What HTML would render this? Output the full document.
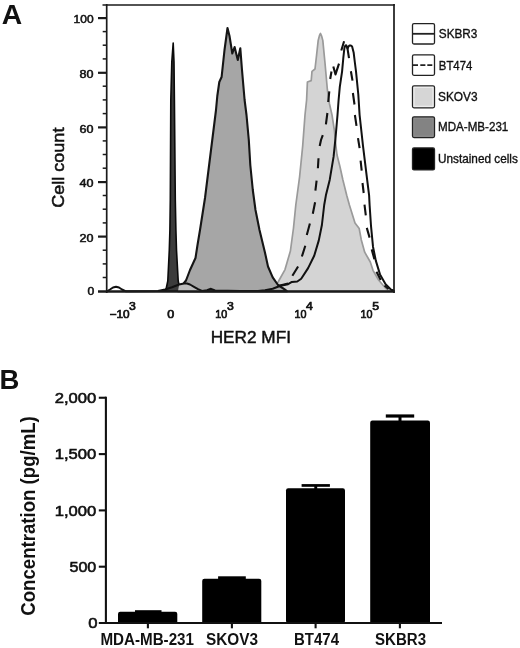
<!DOCTYPE html>
<html>
<head>
<meta charset="utf-8">
<title>Figure</title>
<style>
html,body{margin:0;padding:0;background:#fff;}
body{width:520px;height:648px;overflow:hidden;}
svg{display:block;font-family:"Liberation Sans",sans-serif;}
</style>
</head>
<body>
<svg width="520" height="648" viewBox="0 0 520 648">
<rect x="0" y="0" width="520" height="648" fill="#ffffff"/>

<!-- ================= PANEL A ================= -->
<text x="1.800" y="23.850" font-size="28.300" font-weight="bold" fill="#111">A</text>

<!-- histograms -->
<g stroke-linejoin="round" stroke-linecap="round">
  <!-- SKOV3 light grey -->
  <path id="skov" d="M180,291.300 L183,288 L187,284.5 L191,286 L196,289 L202,291.300 L268,291.300 L274.2,286.5 L278.1,282 L285,269.6 L290.4,251 L293.5,228 L295.8,205 L299.6,176.8 L302.7,145.9 L305,115 L306.6,100 L307.4,82 L311.2,80.6 L312,71.3 L315,69 L316.6,55 L318.2,40.4 L319.5,35.5 L320.5,33.5 L321.6,36 L322.8,40.4 L325,63 L327.4,90 L329.5,104 L332,115 L334.4,130.4 L335.9,145.9 L337,155 L339.8,166 L342.9,180 L346.7,195.3 L349.4,205 L355,223 L359.2,228.6 L361.25,239.7 L364.7,252.2 L370.3,262 L373,270.3 L378.6,280 L385.6,288.3 L389.7,291.300 Z" fill="#d4d4d4" stroke="#9a9a9a" stroke-width="1.700"/>
  <!-- MDA-MB-231 -->
  <path id="mda" d="M178,291.300 L181,289.5 L184,283 L186,280.5 L190,270 L195.5,258 L197.5,245 L200,230 L205,198 L211,150 L216,110 L217.300,96 L219.300,82 L221.600,77 L224.500,50 L227.500,28 L229.500,36 L232.300,53.500 L234.600,47 L237.800,60 L240.300,48.200 L242,70 L244.600,100 L246.500,115 L248.800,140 L250.300,165 L252.800,190 L255.500,210 L259.500,230 L265,252.700 L268,266.500 L272.700,277.300 L278,285 L285,289.600 L287,291.300 Z" fill="#a6a6a6" stroke="#151515" stroke-width="2.1"/>
  <!-- unstained -->
  <path id="uns" d="M163,291.300 L166,289.5 L167.800,281 L169.300,250 L169.900,230 L170.300,200 L170.800,100 L171.800,62 L173.200,43 L174,62 L174.400,100 L175.300,200 L175.900,230 L176.500,250 L178.200,281 L180,289.5 L183,291.300 Z" fill="#3c3c3c" stroke="#0a0a0a" stroke-width="1.6"/>
  <!-- small bumps near zero (light fill + solid) -->
  <path d="M178,291.300 L179,284.800 L184,283.400 L187,283.500 L190,284.500 L194,286.800 L198,289.200 L201,291.300 Z" fill="#bdbdbd" stroke="none"/>
  <!-- BT474 dashed -->
  <path id="bt" d="M279,285.700 L288.100,283.500 M292.4,275.8 L298.1,266.5 M301.9,256.5 L305.3,245.8 M306.8,235 L309.9,223.5 M312.8,213.8 L315.1,202.3 M315.4,190.7 L316.6,180.6 M317.9,168.3 L318.5,158.2 M319.7,145.9 L321,140 L322.8,135.1 M325.9,124.3 L327.4,113 M328.2,102 L329.3,91.4 M330.2,79 L331.5,71.5 M333.3,66.5 L335.5,74.4 L339,63.6 M341.3,50.5 L344.1,41.2 M347.2,46.6 L349,58.2 M350.9,71.3 L352.5,80.6 M352.9,93 L354.5,104.5 M354.9,115 L356.5,125.8 M358,138.2 L359.6,148.2 M360.6,160.6 L361.7,170.6 M362.5,183 L363.7,193 M364.5,204.6 L365.8,215.4 M366.8,227.9 L369.6,237.6 M371.7,249.4 L374.4,259.2 M376.5,271.7 L380.7,280 M384.5,285.5 L388.5,289" fill="none" stroke="#111" stroke-width="2.100" stroke-linecap="butt"/>
  <!-- SKBR3 solid -->
  <path id="skbr" d="M107,291.300 L110,289.5 L113,287.5 L116,286.8 L119,287.500 L122,289.5 L126,291.300 L158,291 L165,289.500 L172,287.300 L179,284.500 L184,283.400 L187,283.500 L190,284.500 L194,286.800 L198,289.200 L202,290.900 L207,290.300 L211,288.800 L215,290.500 L240,290.900 L258,291 L265,290.2 L272.7,288.8 L280.4,285.8 L288.1,284.2 L291.9,281.9 L297.3,281.5 L301.2,278.8 L308.1,268.1 L314.2,255.8 L318.8,240.4 L321.9,225 L324.2,205 L325.9,195.3 L329.7,179.9 L333.6,156.7 L335.5,138.2 L337.5,115 L338.6,100 L339.8,86.8 L342.1,71.3 L343.4,57 L344.4,48.2 L345.2,45.8 L346.2,45.2 L347.5,48.5 L348.5,46.5 L349.5,45.6 L350.8,45.4 L352.1,46.6 L353.7,52.8 L354.8,62 L356,71.3 L358.3,94.5 L359.6,115 L363,145.9 L366.8,176.8 L369.1,195.3 L369.6,205 L371,225.8 L373,246.7 L375.8,260.6 L380,274.4 L385.6,284.2 L391.1,289.7 L393,290.3" fill="none" stroke="#111" stroke-width="2"/>
</g>

<!-- frame -->
<g stroke="#1a1a1a" fill="none" stroke-linecap="butt">
  <line x1="102.500" y1="5" x2="394.800" y2="5" stroke-width="1.500"/>
  <line x1="106.700" y1="4.100" x2="106.700" y2="293" stroke-width="1.700"/>
  <line x1="394" y1="4.100" x2="394" y2="293" stroke-width="1.700"/>
  <line x1="98" y1="291.500" x2="394.800" y2="291.500" stroke-width="2.600"/>
  <!-- major ticks -->
  <g stroke-width="2.200">
    <line x1="98" y1="18.100" x2="106.700" y2="18.100"/>
    <line x1="98" y1="72.800" x2="106.700" y2="72.800"/>
    <line x1="98" y1="127.400" x2="106.700" y2="127.400"/>
    <line x1="98" y1="182.100" x2="106.700" y2="182.100"/>
    <line x1="98" y1="236.600" x2="106.700" y2="236.600"/>
  </g>
  <!-- minor ticks -->
  <g stroke-width="1.500" id="minor">
    <line x1="102.700" y1="277.5" x2="106.700" y2="277.5"/>
    <line x1="102.700" y1="263.9" x2="106.700" y2="263.9"/>
    <line x1="102.700" y1="250.2" x2="106.700" y2="250.2"/>
    <line x1="102.700" y1="222.9" x2="106.700" y2="222.9"/>
    <line x1="102.700" y1="209.2" x2="106.700" y2="209.2"/>
    <line x1="102.700" y1="195.5" x2="106.700" y2="195.5"/>
    <line x1="102.700" y1="168.2" x2="106.700" y2="168.2"/>
    <line x1="102.700" y1="154.5" x2="106.700" y2="154.5"/>
    <line x1="102.700" y1="140.9" x2="106.700" y2="140.9"/>
    <line x1="102.700" y1="113.6" x2="106.700" y2="113.6"/>
    <line x1="102.700" y1="99.9" x2="106.700" y2="99.9"/>
    <line x1="102.700" y1="86.2" x2="106.700" y2="86.2"/>
    <line x1="102.700" y1="58.9" x2="106.700" y2="58.9"/>
    <line x1="102.700" y1="45.2" x2="106.700" y2="45.2"/>
    <line x1="102.700" y1="31.6" x2="106.700" y2="31.6"/>
  </g>
</g>

<!-- y tick labels -->
<g font-size="10.600" fill="#111" stroke="#111" stroke-width="0.500" text-anchor="end">
  <text x="93.600" y="23.2" textLength="20" lengthAdjust="spacingAndGlyphs">100</text>
  <text x="93.600" y="77.9" textLength="14" lengthAdjust="spacingAndGlyphs">80</text>
  <text x="93.600" y="132.5" textLength="14" lengthAdjust="spacingAndGlyphs">60</text>
  <text x="93.600" y="187.2" textLength="14" lengthAdjust="spacingAndGlyphs">40</text>
  <text x="93.600" y="241.8" textLength="14" lengthAdjust="spacingAndGlyphs">20</text>
  <text x="94.300" y="295.100" textLength="6.800" lengthAdjust="spacingAndGlyphs">0</text>
</g>

<!-- x tick labels -->
<g font-size="10.500" fill="#111" stroke="#111" stroke-width="0.650">
  <text x="109.600" y="317.700" textLength="20" lengthAdjust="spacingAndGlyphs">−10</text>
  <text x="129" y="310" textLength="6.800" lengthAdjust="spacingAndGlyphs">3</text>
  <text x="167.200" y="317.700" textLength="7" lengthAdjust="spacingAndGlyphs">0</text>
  <text x="215.300" y="317.700" textLength="12" lengthAdjust="spacingAndGlyphs">10</text>
  <text x="227" y="310" textLength="6.800" lengthAdjust="spacingAndGlyphs">3</text>
  <text x="294.400" y="317.700" textLength="12" lengthAdjust="spacingAndGlyphs">10</text>
  <text x="306" y="310" textLength="6.800" lengthAdjust="spacingAndGlyphs">4</text>
  <text x="360.500" y="317.700" textLength="12" lengthAdjust="spacingAndGlyphs">10</text>
  <text x="372.200" y="310" textLength="6.800" lengthAdjust="spacingAndGlyphs">5</text>
</g>

<!-- axis titles -->
<text x="210.700" y="343.300" font-size="16.200" fill="#111" stroke="#111" stroke-width="0.450" textLength="80.300" lengthAdjust="spacingAndGlyphs">HER2 MFI</text>
<text transform="translate(64.400,207.800) rotate(-90)" font-size="17.200" fill="#111" stroke="#111" stroke-width="0.550" textLength="80.200" lengthAdjust="spacingAndGlyphs">Cell count</text>

<!-- legend -->
<g stroke="#222" stroke-width="1.300">
  <rect x="412.500" y="23.600" width="22" height="20.400" rx="1.500" fill="#fff"/>
  <line x1="412.500" y1="33.800" x2="434.500" y2="33.800" stroke-width="1.800"/>
  <rect x="412.500" y="54.800" width="22" height="20.500" rx="1.500" fill="#fff"/>
  <path d="M412,65.100 H418 M420.300,65.100 H425.400 M427.300,65.100 H432.300" stroke-width="1.600" fill="none"/>
  <rect x="412.500" y="85.800" width="22" height="22" rx="1.500" fill="#d6d6d6"/>
  <rect x="414" y="87.300" width="19" height="19" fill="none" stroke="#f2f2f2" stroke-width="1"/>
  <rect x="412.500" y="116.800" width="22" height="20.800" rx="1.500" fill="#838383"/>
  <rect x="414" y="118.300" width="19" height="17.800" fill="none" stroke="#909090" stroke-width="0.800"/>
  <rect x="412.500" y="147.900" width="22" height="22" rx="1.500" fill="#000"/>
</g>
<g font-size="12.400" fill="#111" stroke="#111" stroke-width="0.350">
  <text x="438.800" y="38.300" textLength="38.600" lengthAdjust="spacingAndGlyphs">SKBR3</text>
  <text x="438.800" y="69.500" textLength="33.500" lengthAdjust="spacingAndGlyphs">BT474</text>
  <text x="438" y="100.500" textLength="39.600" lengthAdjust="spacingAndGlyphs">SKOV3</text>
  <text x="438" y="130.500" textLength="70.300" lengthAdjust="spacingAndGlyphs">MDA-MB-231</text>
  <text x="438" y="163" textLength="79.800" lengthAdjust="spacingAndGlyphs">Unstained cells</text>
</g>

<!-- ================= PANEL B ================= -->
<text x="-0.500" y="388.800" font-size="27.500" font-weight="bold" fill="#111">B</text>

<!-- bars -->
<g fill="#000">
  <rect x="118" y="611.700" width="59.300" height="12" rx="2.200"/>
  <rect x="202.200" y="578.700" width="59.100" height="45" rx="2.200"/>
  <rect x="286" y="488.300" width="59" height="135" rx="2.200"/>
  <rect x="370.200" y="420.600" width="59.800" height="203" rx="2.200"/>
  <!-- error bars -->
  <rect x="135" y="610.200" width="26.500" height="2.500"/>
  <rect x="218.100" y="576.300" width="27.700" height="3.500"/>
  <rect x="301.600" y="484.100" width="28.300" height="2.700"/>
  <rect x="314.300" y="485" width="2.900" height="4.500"/>
  <rect x="385.800" y="414.400" width="28.400" height="3.200"/>
  <rect x="398.500" y="416" width="3" height="6"/>
</g>

<!-- axes -->
<g stroke="#111" stroke-width="2.100" fill="none">
  <line x1="105.900" y1="396.700" x2="105.900" y2="624"/>
  <line x1="98.800" y1="623" x2="442" y2="623"/>
  <line x1="98.800" y1="397.750" x2="105.900" y2="397.750"/>
  <line x1="98.800" y1="454.100" x2="105.900" y2="454.100"/>
  <line x1="98.800" y1="510.400" x2="105.900" y2="510.400"/>
  <line x1="98.800" y1="566.700" x2="105.900" y2="566.700"/>
  <line x1="147.900" y1="623" x2="147.900" y2="628.300"/>
  <line x1="231.900" y1="623" x2="231.900" y2="628.300"/>
  <line x1="315.600" y1="623" x2="315.600" y2="628.300"/>
  <line x1="399.900" y1="623" x2="399.900" y2="628.300"/>
</g>

<!-- y labels B -->
<g font-size="15.200" fill="#111" stroke="#111" stroke-width="0.600" text-anchor="end">
  <text x="96.300" y="402.900" textLength="41.600" lengthAdjust="spacingAndGlyphs">2,000</text>
  <text x="96.300" y="459.300" textLength="41.600" lengthAdjust="spacingAndGlyphs">1,500</text>
  <text x="96.300" y="515.600" textLength="41.600" lengthAdjust="spacingAndGlyphs">1,000</text>
  <text x="96.300" y="571.900" textLength="26.800" lengthAdjust="spacingAndGlyphs">500</text>
  <text x="97.500" y="628.200" textLength="9.300" lengthAdjust="spacingAndGlyphs">0</text>
</g>

<!-- x labels B -->
<g font-size="15.600" font-weight="bold" fill="#111">
  <text x="100.400" y="645.100" textLength="93.600" lengthAdjust="spacingAndGlyphs">MDA-MB-231</text>
  <text x="206" y="645.100" textLength="52" lengthAdjust="spacingAndGlyphs">SKOV3</text>
  <text x="294" y="645.100" textLength="45" lengthAdjust="spacingAndGlyphs">BT474</text>
  <text x="375" y="645.100" textLength="51" lengthAdjust="spacingAndGlyphs">SKBR3</text>
</g>

<text transform="translate(34.900,615.700) rotate(-90)" font-size="19.400" font-weight="bold" fill="#111" textLength="199.500" lengthAdjust="spacingAndGlyphs">Concentration (pg/mL)</text>

</svg>
</body>
</html>
